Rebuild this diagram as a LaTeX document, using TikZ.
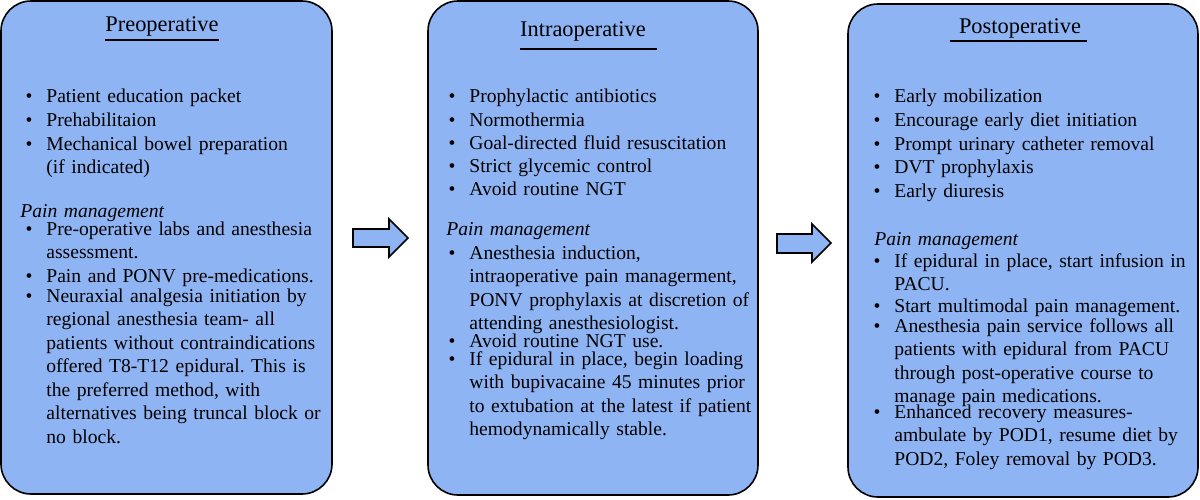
\documentclass[tikz,border=0pt]{standalone}
\usepackage{fontspec}
\setmainfont{Liberation Serif}
\usepackage{xcolor}
\usetikzlibrary{arrows,positioning}
\frenchspacing

\definecolor{phaseblue}{RGB}{142,180,243}
\newcommand{\bul}{\llap{\textbullet\hspace{7pt}}}

\tikzset{
  phase/.style={draw=black, fill=phaseblue, line width=0.8pt, rounded corners=15pt},
  blockarrow/.style={draw=black, fill=phaseblue, line width=0.8pt},
  title/.style={font=\fontsize{11.2}{13}\selectfont, inner sep=0pt, anchor=base},
  uline/.style={line width=1pt},
  item/.style={font=\fontsize{9.8}{11.75}\selectfont, text width=165pt, align=left,
    inner sep=0pt, anchor=base west},
  pain/.style={item, font=\fontsize{9.8}{11.75}\selectfont\itshape}
}

\begin{document}
\begin{tikzpicture}[x=0.5pt,y=-0.5pt]
\useasboundingbox (0,0) rectangle (1200,499);

\filldraw[phase] (1,1) rectangle (332,494);
\filldraw[phase] (428,1) rectangle (758,495);
\filldraw[phase] (848,4) rectangle (1198,497);

\filldraw[blockarrow] (353,229) -- (389,229) -- (389,219) -- (408,238) -- (389,257) -- (389,247) -- (353,247) -- cycle;
\filldraw[blockarrow] (777,234) -- (812,234) -- (812,224) -- (831,243) -- (812,262) -- (812,253) -- (777,253) -- cycle;

\node[title] (pretitle) at (162,31) {Preoperative};
\node[title] (intratitle) at (583,36) {Intraoperative};
\node[title] (posttitle) at (1020,33) {Postoperative};
\draw[uline] ([yshift=-4.5pt]pretitle.base west) -- ([yshift=-4.5pt]pretitle.base east);
\draw[uline] ([yshift=-6.5pt]intratitle.base west) -- ([yshift=-6.5pt,xshift=5.5pt]intratitle.base east);
\draw[uline] ([yshift=-4pt,xshift=-4.5pt]posttitle.base west) -- ([yshift=-4pt,xshift=3pt]posttitle.base east);

\node[item] (pre1) at (46,102) {\bul Patient education packet};
\node[item] (pre2) at (46,126) {\bul Prehabilitaion};
\node[item] (pre3) at (46,150) {\bul Mechanical bowel preparation\\(if indicated)};
\node[pain] (prepain) at (20,217) {Pain management};
\node[item] (pre4) at (46,235) {\bul Pre-operative labs and anesthesia\\assessment.};
\node[item] (pre5) at (46,282) {\bul Pain and PONV pre-medications.};
\node[item] (pre6) at (46,302) {\bul Neuraxial analgesia initiation by\\regional anesthesia team- all\\patients without contraindications\\offered T8-T12 epidural. This is\\the preferred method, with\\alternatives being truncal block or\\no block.};

\node[item] (intra1) at (469,102) {\bul Prophylactic antibiotics};
\node[item] (intra2) at (469,126) {\bul Normothermia};
\node[item] (intra3) at (469,149) {\bul Goal-directed fluid resuscitation};
\node[item] (intra4) at (469,172) {\bul Strict glycemic control};
\node[item] (intra5) at (469,195) {\bul Avoid routine NGT};
\node[pain] (intrapain) at (446,235) {Pain management};
\node[item] (intra6) at (469,259) {\bul Anesthesia induction,\\intraoperative pain managerment,\\PONV prophylaxis at discretion of\\attending anesthesiologist.};
\node[item] (intra7) at (469,347) {\bul Avoid routine NGT use.};
\node[item] (intra8) at (469,365) {\bul If epidural in place, begin loading\\with bupivacaine 45 minutes prior\\to extubation at the latest if patient\\hemodynamically stable.};

\node[item] (post1) at (894,102) {\bul Early mobilization};
\node[item] (post2) at (894,126) {\bul Encourage early diet initiation};
\node[item] (post3) at (894,150) {\bul Prompt urinary catheter removal};
\node[item] (post4) at (894,173) {\bul DVT prophylaxis};
\node[item] (post5) at (894,197) {\bul Early diuresis};
\node[pain] (postpain) at (874,245) {Pain management};
\node[item] (post6) at (894,267) {\bul If epidural in place, start infusion in\\PACU.};
\node[item] (post7) at (894,312) {\bul Start multimodal pain management.};
\node[item] (post8) at (894,332) {\bul Anesthesia pain service follows all\\patients with epidural from PACU\\through post-operative course to\\manage pain medications.};
\node[item] (post9) at (894,418) {\bul Enhanced recovery measures-\\ambulate by POD1, resume diet by\\POD2, Foley removal by POD3.};

\end{tikzpicture}
\end{document}
